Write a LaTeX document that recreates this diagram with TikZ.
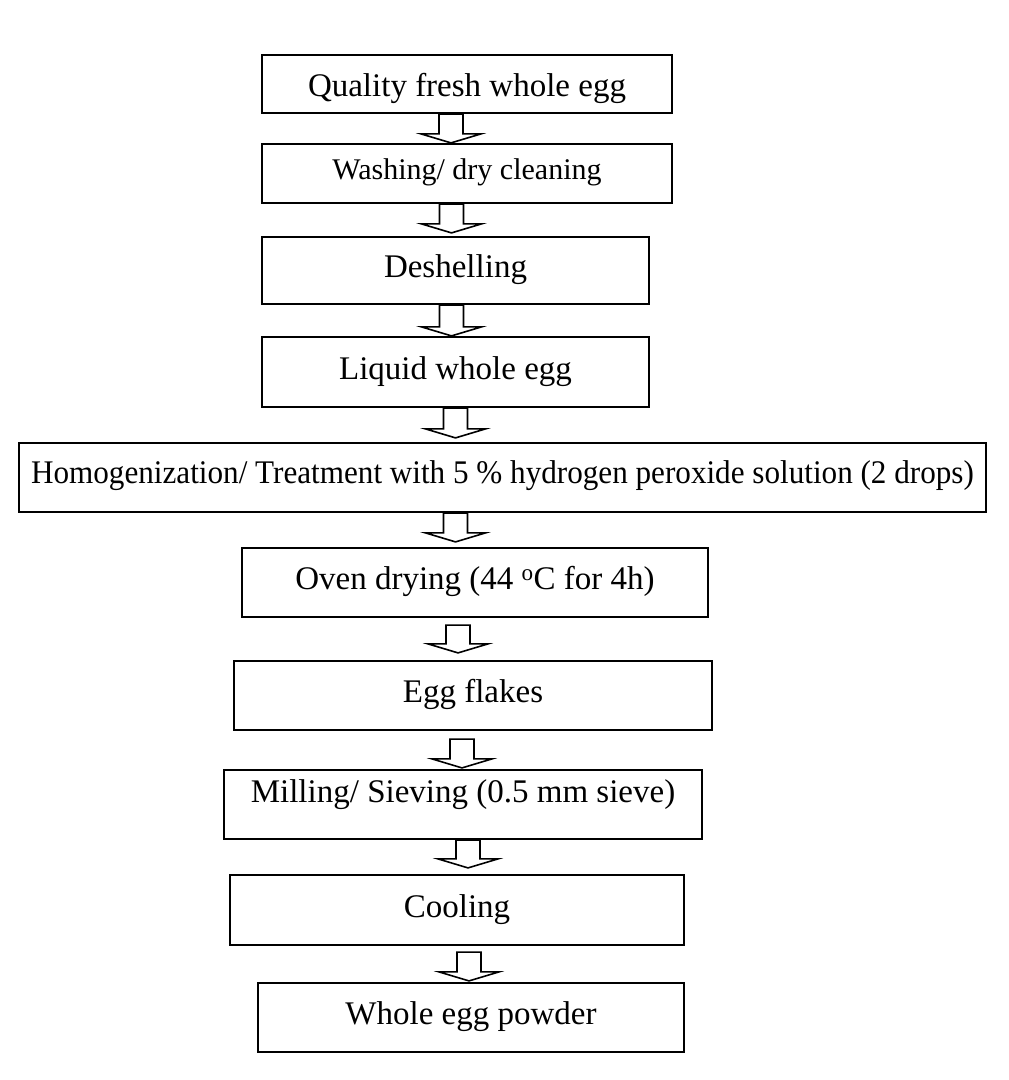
\documentclass[tikz,border=0pt]{standalone}
\usepackage{fontspec}
\setmainfont{Liberation Serif}
\usetikzlibrary{calc}
\tikzset{
  stage/.style ={rectangle, draw=black, line width=2.2pt, fill=white,
                 inner sep=0pt, font=\fontsize{33}{40}\selectfont,
                 text height=29.7pt, text depth=14.9pt},
  blk/.style   ={draw=black, line width=1.6pt, line join=miter, fill=white}
}
\begin{document}
\begin{tikzpicture}[x=1pt, y=-1pt]
  \useasboundingbox (0,0) rectangle (1009,1080);
  \node[stage,minimum width=410,minimum height=58,text depth=5pt] (fresh) at (467,84) {Quality fresh whole egg};
  \node[stage,minimum width=410,minimum height=59,font=\fontsize{30}{36}\selectfont,
        text height=27pt,text depth=14.1pt] (wash) at (467,173.5) {Washing/ dry cleaning};
  \node[stage,minimum width=387,minimum height=67] (deshell) at (455.5,270.5) {Deshelling};
  \node[stage,minimum width=387,minimum height=70] (liquid) at (455.5,372) {Liquid whole egg};
  \node[stage,minimum width=967,minimum height=69,text depth=17.8pt] (homog) at (502.5,477.5)
    {\scalebox{0.944}[1]{Homogenization/ Treatment with 5 \% hydrogen peroxide solution (2 drops)}};
  \node[stage,minimum width=466,minimum height=69] (oven) at (475,582.5) {Oven drying (44 \textsuperscript{o}C for 4h)};
  \node[stage,minimum width=478,minimum height=69] (flakes) at (473,695.5) {Egg flakes};
  \node[stage,minimum width=478,minimum height=69,text depth=33pt] (mill) at (463,804.5) {Milling/ Sieving (0.5 mm sieve)};
  \node[stage,minimum width=454,minimum height=70] (cool) at (457,910) {Cooling};
  \node[stage,minimum width=426,minimum height=69] (powder) at (471,1017.5) {Whole egg powder};
  \foreach \a/\b/\cx/\ga/\gb in {fresh/wash/451/0/0, wash/deshell/451.5/0/3, deshell/liquid/451.5/0/0,
      liquid/homog/455.5/0/4, homog/oven/455.5/0/5, oven/flakes/458/7/7,
      flakes/mill/462/8/1, mill/cool/468/0/6, cool/powder/469/6/1}
    \draw[blk] let \p1=(\a.south), \p2=(\b.north), \n1={\y1-\ga*1pt}, \n2={\y2+\gb*1pt} in
      ({(\cx-12)*1pt},\n1) -- ({(\cx-12)*1pt},{\n2+9pt}) -- ({(\cx-30)*1pt},{\n2+9pt})
      -- ({\cx*1pt},\n2) -- ({(\cx+30)*1pt},{\n2+9pt}) -- ({(\cx+12)*1pt},{\n2+9pt})
      -- ({(\cx+12)*1pt},\n1) -- cycle;
\end{tikzpicture}
\end{document}
